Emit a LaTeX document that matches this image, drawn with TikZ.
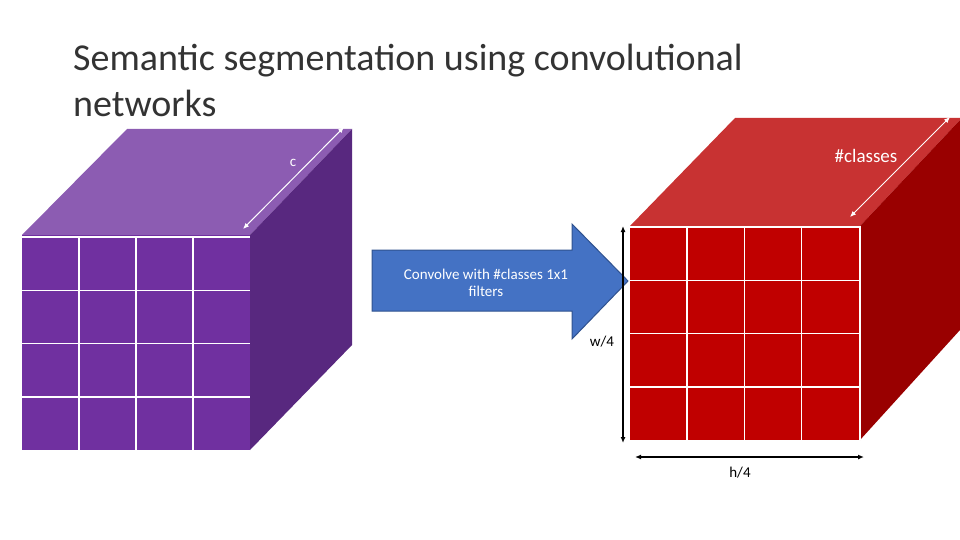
\documentclass[tikz,border=0pt]{standalone}
\usepackage{fontspec}
\setmainfont{Carlito}
\usetikzlibrary{arrows.meta}
\definecolor{ptop}{HTML}{8C5CB2}
\definecolor{pfront}{HTML}{7030A0}
\definecolor{pside}{HTML}{58287F}
\definecolor{rtop}{HTML}{C83232}
\definecolor{rfront}{HTML}{C00000}
\definecolor{rside}{HTML}{990000}
\definecolor{bfill}{HTML}{4472C4}
\definecolor{bdraw}{HTML}{2F528F}
\tikzset{dim/.style={{Latex[length=6pt,width=5pt]}-{Latex[length=6pt,width=5pt]},line width=1.2pt},
 lbl/.style={font=\fontsize{15}{17}\selectfont,inner sep=1pt}}
\begin{document}
\begin{tikzpicture}[x=1pt,y=-1pt]
\useasboundingbox (0,0) rectangle (960,540);
\node[anchor=base west,font=\fontsize{38}{46}\selectfont\addfontfeatures{Color=333333},inner sep=0] (t1) at (73,71) {Semantic segmentation using convolutional};
\node[anchor=base west,font=\fontsize{38}{46}\selectfont\addfontfeatures{Color=333333},inner sep=0] (t2) at (73,117) {networks};
% left cube
\fill[ptop] (22,235) -- (127,129) -- (352,129) -- (250,235) -- cycle;
\fill[pside] (250,235) -- (352,129) -- (352,345) -- (250,450) -- cycle;
\fill[pfront] (22,235) rectangle (250,450);
\foreach \i in {1,2,3} {\draw[white,line width=1.5pt] (22+57*\i,237) -- (22+57*\i,450);
  \draw[white,line width=1.5pt] (22,237+53.3*\i) -- (250,237+53.3*\i);}
\draw[white,line width=1.5pt] (22,237) -- (250,237);
\coordinate (c1) at (344,127); \coordinate (c2) at (243,229);
\draw[dim,white,line width=1pt] (c1) -- (c2);
\node[lbl,text=white] (cl) at (293,163) {c};
% right cube
\fill[rtop] (630,226) -- (735,118) -- (960,118) -- (960,120) -- (860,226) -- cycle;
\fill[rside] (860,226) -- (960,120) -- (960,330) -- (860,440) -- cycle;
\fill[rfront] (630,226) rectangle (860,440);
\foreach \i in {1,2,3} {\draw[white,line width=1.5pt] (630+57.2*\i,227) -- (630+57.2*\i,440);
  \draw[white,line width=1.5pt] (630,227+53.3*\i) -- (860,227+53.3*\i);}
\draw[white,line width=1.5pt] (630,227) -- (860,227) -- (860,440);
\coordinate (r1) at (950,117); \coordinate (r2) at (850,217);
\draw[dim,white,line width=1pt] (r1) -- (r2);
\node[lbl,text=white,font=\fontsize{19}{21}\selectfont] (cls) at (866,156) {\#classes};
% blue arrow
\filldraw[fill=bfill,draw=bdraw,line width=1pt] (372,250) -- (572,250) -- (572,224) -- (628,281) -- (572,339) -- (572,311) -- (372,311) -- cycle;
\node[lbl,text=white,align=center] (conv) at (486,283) {Convolve with \#classes 1x1\\filters};
% dims
\coordinate (w1) at (623,226); \coordinate (w2) at (623,443);
\draw[dim] (w1) -- (w2);
\node[lbl] (wl) at (602,342) {w/4};
\coordinate (h1) at (635,457); \coordinate (h2) at (864,457);
\draw[dim] (h1) -- (h2);
\node[lbl] (hl) at (740,473) {h/4};
\end{tikzpicture}
\end{document}
